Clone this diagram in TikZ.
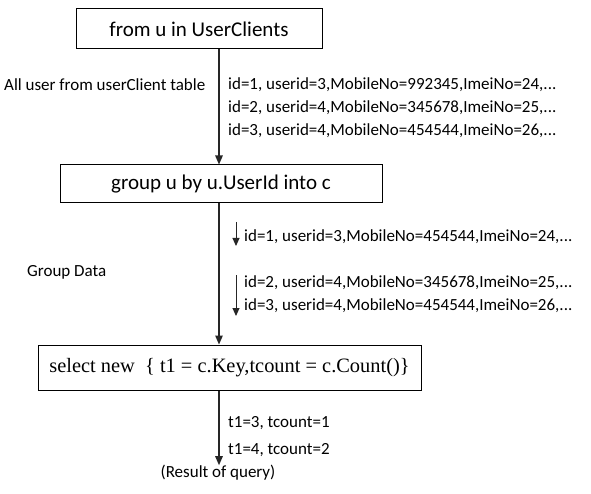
\documentclass[tikz,border=0pt]{standalone}
\usepackage{fontspec}
\setmainfont{Carlito}
\newfontfamily\timesf{Liberation Serif}
\usetikzlibrary{arrows.meta}
\tikzset{
  box/.style={draw=black, line width=1pt, inner sep=0pt, font=\fontsize{21}{24}\selectfont},
  arr/.style={draw=black!85, line width=1.3pt, -{Triangle[width=7.5pt,length=9pt]}},
  lbl/.style={anchor=west, inner sep=0pt, font=\fontsize{17}{19}\selectfont},
}
\begin{document}
\begin{tikzpicture}[x=1pt,y=-1pt]
\useasboundingbox (0,0) rectangle (591,494);
\node[box, minimum width=246pt, minimum height=40pt] (b1) at (199,29) {from u in UserClients};
\node[box, minimum width=322pt, minimum height=38pt] (b2) at (221,184) {group u by u.UserId into c};
\node[box, minimum width=383pt, minimum height=45pt, font=\timesf\fontsize{20.4}{24}\selectfont] (b3) at (229.5,367.5) {select new\ \ \{ t1 = c.Key,tcount = c.Count()\}};
\coordinate (ax) at (219,0);
\node[lbl] (l1) at (4,85) {All user from userClient table};
\node[lbl] (r1) at (228,85) {id=1, userid=3,MobileNo=992345,ImeiNo=24,...};
\node[lbl] (r2) at (228,108) {id=2, userid=4,MobileNo=345678,ImeiNo=25,...};
\node[lbl] (r3) at (228,131) {id=3, userid=4,MobileNo=454544,ImeiNo=26,...};
\node[lbl] (gd) at (27,272) {Group Data};
\node[lbl] (g1) at (244,237) {id=1, userid=3,MobileNo=454544,ImeiNo=24,...};
\node[lbl] (g2) at (244,283) {id=2, userid=4,MobileNo=345678,ImeiNo=25,...};
\node[lbl] (g3) at (244,306) {id=3, userid=4,MobileNo=454544,ImeiNo=26,...};
\node[lbl] (t1) at (228,423) {t1=3, tcount=1};
\node[lbl] (t2) at (228,450) {t1=4, tcount=2};
\node[lbl, anchor=center] (res) at (218,473) {(Result of query)};
\coordinate (s1a) at (236,222);
\coordinate (s1b) at (236,246);
\coordinate (s2a) at (236,275);
\coordinate (s2b) at (236,316);
\draw[arr] (b1.south -| ax) -- (b2.north -| ax);
\draw[arr] (b2.south -| ax) -- (b3.north -| ax);
\draw[arr] (b3.south -| ax) -- (res.north -| ax);
\draw[arr, line width=1pt, -{Triangle[width=7pt,length=8pt]}] (s1a) -- (s1b);
\draw[arr, line width=1pt, -{Triangle[width=7pt,length=8pt]}] (s2a) -- (s2b);
\end{tikzpicture}
\end{document}
